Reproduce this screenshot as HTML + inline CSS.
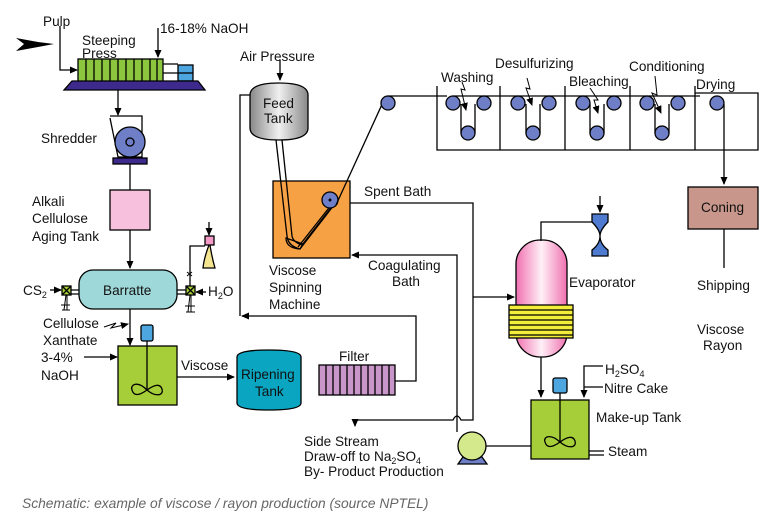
<!DOCTYPE html>
<html><head><meta charset="utf-8"><style>
html,body{margin:0;padding:0;background:#fff;}
svg{display:block;font-family:"Liberation Sans",Arial,sans-serif;}
text{font-size:13.6px;fill:#111;}
</style></head><body>
<svg width="768" height="518" viewBox="0 0 768 518" xmlns="http://www.w3.org/2000/svg">
<defs>
<marker id="a" markerWidth="8" markerHeight="8" refX="7" refY="4" orient="auto" markerUnits="userSpaceOnUse"><path d="M0,0.5 L8,4 L0,7.5 Z" fill="#000"/></marker>
<linearGradient id="g" x1="0" x2="1"><stop offset="0" stop-color="#888"/><stop offset="0.5" stop-color="#f0f0f0"/><stop offset="1" stop-color="#888"/></linearGradient>
<linearGradient id="p" x1="0" x2="1"><stop offset="0" stop-color="#f070b0"/><stop offset="0.5" stop-color="#fff0f6"/><stop offset="1" stop-color="#f070b0"/></linearGradient>
</defs>
<g stroke="#000" stroke-width="1.3" fill="none">
<path d="M16,38 L38,42 L54,44 L38,47 L16,51 L24,44 Z" fill="#000" stroke="none"/>
<path d="M60,26 V70 H77" marker-end="url(#a)"/>
<path d="M158,28 V57" marker-end="url(#a)"/>
<rect x="78" y="59" width="85" height="23" fill="#8cc63f"/>
<path d="M86,59V82M94,59V82M102,59V82M110,59V82M118,59V82M126,59V82M134,59V82M142,59V82M150,59V82M157,59V82"/>
<path d="M163,64H178M163,73H178"/>
<rect x="178" y="65" width="15" height="16" fill="#4ea6e0"/>
<path d="M178,73H193"/>
<path d="M72,81 L198,81 L205,90 L64,90 Z" fill="#3d2a8c"/>
<path d="M118,90 V115" marker-end="url(#a)"/>
<path d="M110,116 H142 V157 H118 L110,118" />
<circle cx="130" cy="142" r="15" fill="#6e7fc8"/>
<circle cx="130" cy="142" r="4"/>
<rect x="113" y="158" width="34" height="6" fill="#3d2a8c"/>
<path d="M130,164 V190"/>
<rect x="110" y="190" width="40" height="40" fill="#f7c0dc"/>
<path d="M130,230 V268" marker-end="url(#a)"/>
<rect x="79" y="270" width="98" height="39" rx="14" fill="#9fd8d8"/>
<path d="M70,290H79M70,294H79M177,290H186M177,294H186"/>
<rect x="62" y="286" width="9" height="9" fill="#a6ce39"/>
<path d="M62,286l9,9M71,286l-9,9"/>
<rect x="186" y="286" width="9" height="9" fill="#a6ce39"/>
<path d="M186,286l9,9M195,286l-9,9"/>
<path d="M66,295 L64,310 M67,295 V310 M61,305H70 M62,310H70 M190,295 L188,312 M191,295 V312 M185,306H195 M186,312H195" stroke-width="1"/>
<path d="M50,290 H61" marker-end="url(#a)"/>
<path d="M206,292 H196" marker-end="url(#a)"/>
<path d="M190,286 V246 H205"/>
<path d="M187,272l5,4M192,272l-5,4" stroke-width="1"/>
<rect x="205" y="236" width="9" height="9" fill="#f39ac6"/>
<path d="M209,245 Q204,258 203,268 H215 Q212,258 210,245" fill="#f4e590"/>
<path d="M209,222 V235" marker-end="url(#a)"/>
<path d="M104,327 L116,323 L111,328 L128,324" marker-end="url(#a)" stroke-width="1"/>
<path d="M130,309 V345" marker-end="url(#a)"/>
<rect x="118" y="346" width="59" height="59" fill="#a6ce39"/>
<rect x="141" y="325" width="12" height="16" rx="2" fill="#4ea6e0"/>
<path d="M147,341 V390"/>
<path d="M147,390 C137,380 130,385 132,390 C134,397 140,395 147,390 C154,385 160,383 162,389 C164,396 155,397 147,390Z"/>
<path d="M84,357 H117" marker-end="url(#a)"/>
<path d="M177,377 H234" marker-end="url(#a)"/>
<path d="M237,357 Q237,350 269,350 Q301,350 301,357 V403 Q301,410 269,410 Q237,410 237,403 Z" fill="#0aa5c0"/>
<rect x="319" y="365" width="76" height="30" fill="#c896c8"/>
<path d="M326,365V395M333,365V395M340,365V395M347,365V395M354,365V395M361,365V395M368,365V395M375,365V395M382,365V395M389,365V395"/>
<path d="M395,381 H416 V316 H242" marker-end="url(#a)"/>
<path d="M250,95 H240 V316"/>
<path d="M250,95 Q250,83 279,83 Q308,83 308,95 V128 Q308,140 279,140 Q250,140 250,128 Z" fill="url(#g)"/>
<path d="M280,60 V80" marker-end="url(#a)"/>
<rect x="273" y="181" width="77" height="77" fill="#f7a145"/>
<path d="M276,140 L287,236 Q288,246 300,249 M282,140 L292,236 Q293,242 302,245" />
<path d="M286,238 Q286,248 300,249 L303,244 Z"/>
<path d="M300,249 L334,205 M302,245 L333,205 M298,247 L332,204"/>
<circle cx="330" cy="200" r="8" fill="#6e7fc8"/>
<circle cx="330" cy="200" r="0.8" fill="#000"/>
<path d="M336,205 L384,100"/>
<path d="M350,203 H473 V420 H461 Q457,412 453,420 H355 V426" marker-end="url(#a)"/>
<path d="M473,297 H514" marker-end="url(#a)"/>
<path d="M457,432 V255 H352" marker-end="url(#a)"/>
<path d="M463,457 L458,464 H487 L482,457 Z" fill="#6e7fc8"/>
<circle cx="472" cy="446" r="14" fill="#d4e88c"/>
<path d="M486,446 H531"/>
<rect x="516" y="240" width="51" height="117" rx="24" fill="url(#p)"/>
<rect x="509" y="305" width="64" height="33" fill="#f2ee3a"/>
<path d="M509,310H573M509,315H573M509,320H573M509,325H573M509,330H573M509,335H573"/>
<path d="M541,241 V222 H592"/>
<path d="M592,214 H608 V222 Q600,230 600,236 Q600,244 608,250 V256 H592 V250 Q600,244 600,236 Q600,230 592,222 Z" fill="#4e7bd0"/>
<path d="M600,196 V212" marker-end="url(#a)"/>
<path d="M541,357 V397" marker-end="url(#a)"/>
<rect x="531" y="400" width="58" height="59" fill="#a6ce39"/>
<rect x="553" y="378" width="14" height="15" rx="2" fill="#4ea6e0"/>
<path d="M560,393 V442"/>
<path d="M560,442 C550,433 543,437 545,442 C547,449 553,447 560,442 C567,437 573,435 575,441 C577,448 568,449 560,442Z"/>
<path d="M603,366 H584 V397" marker-end="url(#a)"/>
<path d="M603,387 H584"/>
<path d="M589,451 H604 M589,455 H604"/>
<circle cx="388" cy="103" r="7" fill="#6e7fc8"/>
<path d="M388,96 H447"/>
<path d="M437,86 V150 H758 V93 H695 M500,86 V150 M565,86 V150 M630,86 V150 M695,86 V150"/>
<g fill="#6e7fc8">
<circle cx="453" cy="103" r="7"/><circle cx="484" cy="103" r="7"/><circle cx="468" cy="133" r="7"/>
<circle cx="518" cy="103" r="7"/><circle cx="549" cy="103" r="7"/><circle cx="533" cy="133" r="7"/>
<circle cx="583" cy="103" r="7"/><circle cx="614" cy="103" r="7"/><circle cx="597" cy="133" r="7"/>
<circle cx="647" cy="103" r="7"/><circle cx="678" cy="103" r="7"/><circle cx="662" cy="133" r="7"/>
<circle cx="717" cy="103" r="7"/>
</g>
<path d="M461,104 V133 M475,104 V133 M526,104 V133 M540,104 V133 M590,104 V133 M604,104 V133 M655,104 V133 M669,104 V133"/>
<path d="M453,96 H700" />
<path d="M724,104 V184" marker-end="url(#a)"/>
<rect x="688" y="187" width="70" height="42" fill="#c8968a"/>
<path d="M724,229 V268"/>
<path d="M462,82 L465,90 L461,89 L466,110" marker-end="url(#a)" stroke-width="1"/>
<path d="M527,78 L530,89 L526,88 L532,105" marker-end="url(#a)" stroke-width="1"/>
<path d="M590,88 L598,100 L594,100 L598,113" marker-end="url(#a)" stroke-width="1"/>
<path d="M655,76 L657,95 L652,93 L661,113" marker-end="url(#a)" stroke-width="1"/>
</g>
<g stroke="none">
<text x="43" y="26">Pulp</text>
<text x="82" y="45">Steeping</text>
<text x="82" y="58">Press</text>
<text x="160" y="33">16-18% NaOH</text>
<text x="240" y="61">Air Pressure</text>
<text x="263" y="108">Feed</text>
<text x="264" y="123">Tank</text>
<text x="41" y="143">Shredder</text>
<text x="32" y="206">Alkali</text>
<text x="32" y="223">Cellulose</text>
<text x="32" y="241">Aging Tank</text>
<text x="23" y="295">CS<tspan font-size="9" dy="3">2</tspan></text>
<text x="103" y="295">Barratte</text>
<text x="208" y="296">H<tspan font-size="9" dy="3">2</tspan><tspan dy="-3">O</tspan></text>
<text x="43" y="328">Cellulose</text>
<text x="43" y="345">Xanthate</text>
<text x="41" y="362">3-4%</text>
<text x="41" y="380">NaOH</text>
<text x="181" y="370">Viscose</text>
<text x="241" y="379">Ripening</text>
<text x="255" y="396">Tank</text>
<text x="339" y="361">Filter</text>
<text x="269" y="275">Viscose</text>
<text x="269" y="292">Spinning</text>
<text x="269" y="309">Machine</text>
<text x="364" y="196">Spent Bath</text>
<text x="368" y="270">Coagulating</text>
<text x="392" y="286">Bath</text>
<text x="569" y="287">Evaporator</text>
<text x="304" y="446">Side Stream</text>
<text x="304" y="461">Draw-off to Na<tspan font-size="9" dy="3">2</tspan><tspan dy="-3">SO</tspan><tspan font-size="9" dy="3">4</tspan></text>
<text x="304" y="476">By- Product Production</text>
<text x="605" y="374">H<tspan font-size="9" dy="3">2</tspan><tspan dy="-3">SO</tspan><tspan font-size="9" dy="3">4</tspan></text>
<text x="604" y="393">Nitre Cake</text>
<text x="596" y="422">Make-up Tank</text>
<text x="608" y="456">Steam</text>
<text x="441" y="82">Washing</text>
<text x="495" y="68">Desulfurizing</text>
<text x="569" y="86">Bleaching</text>
<text x="629" y="71">Conditioning</text>
<text x="696" y="89">Drying</text>
<text x="701" y="212">Coning</text>
<text x="697" y="290">Shipping</text>
<text x="697" y="334">Viscose</text>
<text x="703" y="350">Rayon</text>
<text x="22" y="508" style="font-style:italic;fill:#666;font-size:13.8px">Schematic: example of viscose / rayon production (source NPTEL)</text>
</g>
</svg>
</body></html>
